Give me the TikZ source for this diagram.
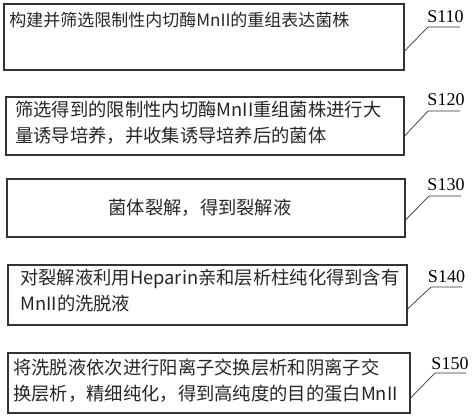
\documentclass[tikz,border=0pt]{standalone}
\usepackage{fontspec}
\usepackage{tikz}
\usetikzlibrary{positioning}
\newfontfamily\cjk{Noto Sans CJK SC}
\newfontfamily\labelfont{Liberation Serif}
\tikzstyle{stepbox}=[rectangle, draw=black!80, line width=1.1pt, inner sep=0pt]
\tikzstyle{steptext}=[anchor=west, align=left, inner sep=0pt, text=black!85, font=\cjk\fontsize{18.3}{26}\selectfont]
\tikzstyle{steplabel}=[anchor=base, inner sep=0pt, font=\labelfont\fontsize{18}{18}\selectfont]

\begin{document}
\begin{tikzpicture}
[x=1pt, y=-1pt, line width=0.7pt, draw=black!80]
 \useasboundingbox (0,0) rectangle (474,418);
 % boxes
 \node[stepbox, minimum width=400pt, minimum height=66pt] (1b) at (204,37) {};
 \node[stepbox, minimum width=398pt, minimum height=58pt] (2b) at (205,126) {};
 \node[stepbox, minimum width=398pt, minimum height=58pt] (3b) at (206,208) {};
 \node[stepbox, minimum width=399pt, minimum height=60pt] (4b) at (207.5,295) {};
 \node[stepbox, minimum width=402pt, minimum height=60pt] (5b) at (209,383) {};
 % texts
 \node[steptext, font=\cjk\fontsize{17}{24}\selectfont] (1t) at (9,20) {构建并筛选限制性内切酶MnII的重组表达菌株};
 \node[steptext] (2t) at (15,123) {筛选得到的限制性内切酶MnII重组菌株进行大\\量诱导培养，并收集诱导培养后的菌体};
 \node[steptext, anchor=center] (3t) at (200,208) {菌体裂解，得到裂解液};
 \node[steptext] (4t) at (20,291) {对裂解液利用Heparin亲和层析柱纯化得到含有\\MnII的洗脱液};
 \node[steptext] (5t) at (13,381) {将洗脱液依次进行阳离子交换层析和阴离子交\\换层析，精细纯化，得到高纯度的目的蛋白MnII};
 % labels
 \node[steplabel] (1l) at (445.5,22) {S110};
 \node[steplabel] (2l) at (446,105) {S120};
 \node[steplabel] (3l) at (446,190) {S130};
 \node[steplabel] (4l) at (446.5,282) {S140};
 \node[steplabel] (5l) at (450,369) {S150};
 % leaders
 \coordinate (1k) at (428,27);  \coordinate (1e) at (460,27);
 \coordinate (2k) at (428,111); \coordinate (2e) at (460,111);
 \coordinate (3k) at (429,196); \coordinate (3e) at (461,196);
 \coordinate (4k) at (431,287); \coordinate (4e) at (462,287);
 \coordinate (5k) at (435,373); \coordinate (5e) at (466,373);
 \draw ([yshift=-14pt]1b.east) -- (1k) -- (1e);
 \draw ([yshift=-10pt]2b.east) -- (2k) -- (2e);
 \draw ([yshift=-12pt]3b.east) -- (3k) -- (3e);
 \draw ([yshift=-14pt]4b.east) -- (4k) -- (4e);
 \draw ([yshift=-15pt]5b.east) -- (5k) -- (5e);
\end{tikzpicture}
\end{document}
